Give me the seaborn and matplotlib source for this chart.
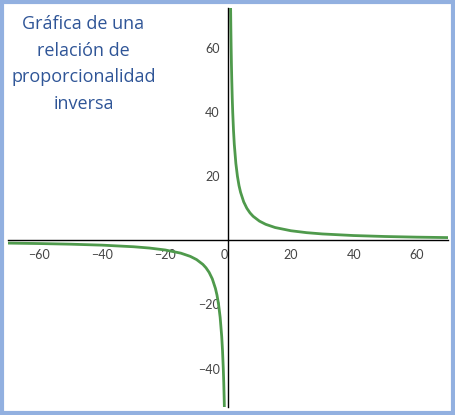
import matplotlib
matplotlib.use("Agg")
import matplotlib.pyplot as plt
import seaborn as sns
import pandas as pd
from matplotlib.patches import Rectangle

sns.set_style("white")
plt.rcParams['font.family'] = ['Lato', 'DejaVu Sans']

x_pos = [0.8, 0.9, 1, 1.1, 1.2, 1.35, 1.5, 1.75, 2, 2.5, 3, 3.5, 4, 5, 6, 7, 8, 10, 12, 15, 20, 25, 30, 40, 50, 60, 70]
y_pos = [75, 66.7, 60, 54.5, 50, 44.4, 40, 34.3, 30, 24, 20, 17.1, 15, 12, 10, 8.57, 7.5, 6, 5, 4, 3, 2.4, 2, 1.5, 1.2, 1, 0.86]
x_neg = [-70, -60, -50, -40, -30, -25, -20, -15, -12, -10, -8, -7, -6, -5, -4, -3.5, -3, -2.5, -2, -1.75, -1.5, -1.35, -1.2, -1.1, -1.0]
y_neg = [-0.86, -1, -1.2, -1.5, -2, -2.4, -3, -4, -5, -6, -7.5, -8.57, -10, -12, -15, -17.1, -20, -24, -30, -34.3, -40, -44.4, -50, -54.5, -60]
x_ticks = [-60, -40, -20, 0, 20, 40, 60]
y_ticks = [-40, -20, 20, 40, 60]

W, H = 455, 415
fig = plt.figure(figsize=(W/100, H/100), dpi=100)
fig.patches.append(Rectangle((0.004, 0.005), 0.992, 0.99, transform=fig.transFigure,
                             fill=False, edgecolor='#92b0e0', linewidth=3))
ax = fig.add_axes([8/W, 1-407/H, 440/W, 399/H])
green = '#4f9a4c'
sns.lineplot(data=pd.DataFrame({'x': x_pos, 'y': y_pos}), x='x', y='y', ax=ax,
             color=green, linewidth=2, sort=False)
sns.lineplot(data=pd.DataFrame({'x': x_neg, 'y': y_neg}), x='x', y='y', ax=ax,
             color=green, linewidth=2, sort=False)
ax.set_xlim(-70, 70)
ax.set_ylim(-52, 72.5)
ax.set_xlabel(''); ax.set_ylabel('')
for s in ['top', 'right']:
    ax.spines[s].set_visible(False)
ax.spines['left'].set_position(('data', 0))
ax.spines['bottom'].set_position(('data', 0))
for s in ['left', 'bottom']:
    ax.spines[s].set_color('black'); ax.spines[s].set_linewidth(1)
ax.set_xticks(x_ticks)
ax.set_yticks(y_ticks)
ax.tick_params(length=0, labelsize=9, labelcolor='#444444', pad=6)
for lbl in ax.get_xticklabels():
    if lbl.get_text() in ('0',):
        lbl.set_ha('right')
ax.text(-46, 55, "Gráfica de una\nrelación de\nproporcionalidad\ninversa", ha='center', va='center',
        fontsize=13, color='#2f5597', linespacing=1.6, family=['Open Sans', 'DejaVu Sans'])
fig.savefig('out.png', dpi=100)
